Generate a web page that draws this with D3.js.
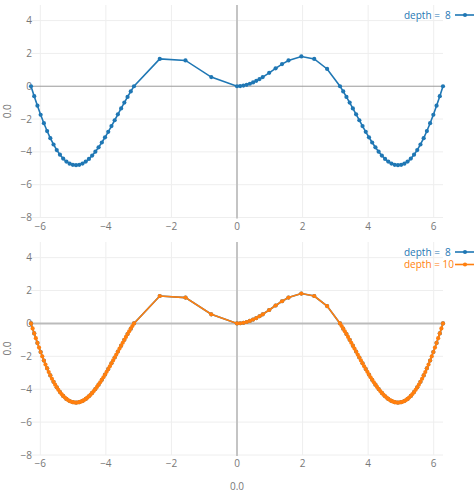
<!DOCTYPE html>
<html><head><meta charset="utf-8">
<script src="https://cdn.jsdelivr.net/npm/d3@7"></script>
<style>html,body{margin:0;padding:0;background:#fff;}svg{display:block;font-family:"Open Sans",sans-serif;}</style>
</head><body>
<svg id="c" width="474" height="493"></svg>
<script>
const xTicks = [-6, -4, -2, 0, 2, 4, 6];
const yTicks = [-8, -6, -4, -2, 0, 2, 4];
const xTitle = "0.0";
const yTitle = "0.0";
const seriesNames = ["depth =  8", "depth = 10"];
const seriesColors = ["#1f77b4", "#ff7f0e"];

const depth8 = [
[-6.283,0],[-6.185,-0.606],[-6.087,-1.188],[-5.989,-1.738],[-5.890,-2.254],[-5.792,-2.731],[-5.694,-3.164],[-5.596,-3.550],[-5.498,-3.888],[-5.400,-4.174],[-5.302,-4.408],[-5.203,-4.589],[-5.105,-4.717],[-5.007,-4.791],[-4.909,-4.814],[-4.811,-4.787],[-4.712,-4.712],[-4.614,-4.592],[-4.516,-4.429],[-4.418,-4.228],[-4.320,-3.991],[-4.222,-3.723],[-4.123,-3.429],[-4.025,-3.112],[-3.927,-2.777],[-3.829,-2.429],[-3.731,-2.073],[-3.633,-1.712],[-3.534,-1.353],[-3.436,-0.997],[-3.338,-0.651],[-3.240,-0.318],[-3.142,0],
[-2.356,1.666],[-1.571,1.571],[-0.785,0.555],[0,0],[0.098,0.010],[0.196,0.038],[0.295,0.086],[0.393,0.150],[0.491,0.231],[0.589,0.327],[0.687,0.436],[0.785,0.555],[0.982,0.816],[1.178,1.088],[1.374,1.348],[1.571,1.571],[1.963,1.814],[2.356,1.666],[2.749,1.052],
[3.142,0],[3.240,-0.318],[3.338,-0.651],[3.436,-0.997],[3.534,-1.353],[3.633,-1.712],[3.731,-2.073],[3.829,-2.429],[3.927,-2.777],[4.025,-3.112],[4.123,-3.429],[4.222,-3.723],[4.320,-3.991],[4.418,-4.228],[4.516,-4.429],[4.614,-4.592],[4.712,-4.712],[4.811,-4.787],[4.909,-4.814],[5.007,-4.791],[5.105,-4.717],[5.203,-4.589],[5.302,-4.408],[5.400,-4.174],[5.498,-3.888],[5.596,-3.550],[5.694,-3.164],[5.792,-2.731],[5.890,-2.254],[5.989,-1.738],[6.087,-1.188],[6.185,-0.606],[6.283,0]
];

const depth10 = [
[-6.283,0],[-6.234,-0.306],[-6.185,-0.606],[-6.136,-0.900],[-6.087,-1.188],[-6.038,-1.467],[-5.989,-1.738],[-5.940,-2.001],[-5.890,-2.254],[-5.842,-2.498],[-5.792,-2.731],[-5.743,-2.953],[-5.694,-3.164],[-5.645,-3.363],[-5.596,-3.550],[-5.547,-3.725],[-5.498,-3.888],[-5.449,-4.037],[-5.400,-4.174],[-5.351,-4.298],[-5.302,-4.408],[-5.252,-4.505],[-5.203,-4.589],[-5.154,-4.659],[-5.105,-4.717],[-5.056,-4.761],[-5.007,-4.791],[-4.958,-4.809],[-4.909,-4.814],[-4.860,-4.807],[-4.811,-4.787],[-4.762,-4.756],[-4.712,-4.712],[-4.663,-4.658],[-4.614,-4.592],[-4.565,-4.516],[-4.516,-4.429],[-4.467,-4.333],[-4.418,-4.228],[-4.369,-4.113],[-4.320,-3.991],[-4.271,-3.861],[-4.222,-3.723],[-4.173,-3.579],[-4.123,-3.429],[-4.074,-3.273],[-4.025,-3.112],[-3.976,-2.946],[-3.927,-2.777],[-3.878,-2.604],[-3.829,-2.429],[-3.780,-2.252],[-3.731,-2.073],[-3.682,-1.893],[-3.633,-1.712],[-3.583,-1.532],[-3.534,-1.353],[-3.485,-1.174],[-3.436,-0.997],[-3.387,-0.823],[-3.338,-0.651],[-3.289,-0.483],[-3.240,-0.318],[-3.191,-0.157],[-3.142,0],
[-2.356,1.666],[-1.571,1.571],[-0.785,0.555],[0,0],[0.098,0.010],[0.196,0.038],[0.295,0.086],[0.393,0.150],[0.491,0.231],[0.589,0.327],[0.687,0.436],[0.785,0.555],[0.982,0.816],[1.178,1.088],[1.374,1.348],[1.571,1.571],[1.963,1.814],[2.356,1.666],[2.749,1.052],
[3.142,0],[3.191,-0.157],[3.240,-0.318],[3.289,-0.483],[3.338,-0.651],[3.387,-0.823],[3.436,-0.997],[3.485,-1.174],[3.534,-1.353],[3.583,-1.532],[3.633,-1.712],[3.682,-1.893],[3.731,-2.073],[3.780,-2.252],[3.829,-2.429],[3.878,-2.604],[3.927,-2.777],[3.976,-2.946],[4.025,-3.112],[4.074,-3.273],[4.123,-3.429],[4.173,-3.579],[4.222,-3.723],[4.271,-3.861],[4.320,-3.991],[4.369,-4.113],[4.418,-4.228],[4.467,-4.333],[4.516,-4.429],[4.565,-4.516],[4.614,-4.592],[4.663,-4.658],[4.712,-4.712],[4.762,-4.756],[4.811,-4.787],[4.860,-4.807],[4.909,-4.814],[4.958,-4.809],[5.007,-4.791],[5.056,-4.761],[5.105,-4.717],[5.154,-4.659],[5.203,-4.589],[5.252,-4.505],[5.302,-4.408],[5.351,-4.298],[5.400,-4.174],[5.449,-4.037],[5.498,-3.888],[5.547,-3.725],[5.596,-3.550],[5.645,-3.363],[5.694,-3.164],[5.743,-2.953],[5.792,-2.731],[5.842,-2.498],[5.890,-2.254],[5.940,-2.001],[5.989,-1.738],[6.038,-1.467],[6.087,-1.188],[6.136,-0.900],[6.185,-0.606],[6.234,-0.306],[6.283,0]
];

const svg = d3.select("#c");
const xDomain = [-6.2832, 6.2832];
const yDomain = [-8, 4.95];
const L = 31, R = 443;
const panels = [
  {top: 5, bottom: 217.5, series: [0], zeroColor: "#999", zeroW: 1},
  {top: 242, bottom: 455, series: [0, 1], zeroColor: "#bbb", zeroW: 2}
];
const allSeries = [depth8, depth10];
const tickColor = "#777";

panels.forEach((p, pi) => {
  const x = d3.scaleLinear().domain(xDomain).range([L, R]);
  const y = d3.scaleLinear().domain(yDomain).range([p.bottom, p.top]);
  const g = svg.append("g");
  g.selectAll(".gx").data(xTicks.filter(t => t !== 0)).enter().append("line")
    .attr("x1", d => x(d)).attr("x2", d => x(d)).attr("y1", p.top).attr("y2", p.bottom)
    .attr("stroke", "#eee").attr("stroke-width", 1);
  g.selectAll(".gy").data(yTicks.filter(t => t !== 0)).enter().append("line")
    .attr("x1", L).attr("x2", R).attr("y1", d => y(d)).attr("y2", d => y(d))
    .attr("stroke", "#eee").attr("stroke-width", 1);
  g.append("line").attr("x1", L).attr("x2", R).attr("y1", y(0)).attr("y2", y(0))
    .attr("stroke", p.zeroColor).attr("stroke-width", p.zeroW);
  g.append("line").attr("x1", x(0)).attr("x2", x(0)).attr("y1", p.top).attr("y2", p.bottom + 1)
    .attr("stroke", "#c4c4c4").attr("stroke-width", 2);
  g.selectAll(".tx").data(xTicks).enter().append("text")
    .attr("x", d => x(d)).attr("y", p.bottom + 12).attr("text-anchor", "middle")
    .attr("font-size", 10).attr("fill", tickColor).text(d => d < 0 ? "\u2212" + Math.abs(d) : d);
  g.selectAll(".ty").data(yTicks).enter().append("text")
    .attr("x", L + 1).attr("y", d => y(d) + 3.5).attr("text-anchor", "end")
    .attr("font-size", 10).attr("fill", tickColor).text(d => d < 0 ? "\u2212" + Math.abs(d) : d);
  const cy = (p.top + p.bottom) / 2;
  g.append("text").attr("transform", `translate(11,${cy}) rotate(-90)`).attr("text-anchor", "middle")
    .attr("font-size", 10).attr("fill", tickColor).text(yTitle);
  const line = d3.line().x(d => x(d[0])).y(d => y(d[1]));
  p.series.forEach(si => {
    const data = allSeries[si];
    const sg = g.append("g");
    sg.append("path").attr("d", line(data)).attr("fill", "none")
      .attr("stroke", seriesColors[si]).attr("stroke-width", 1.6);
    sg.selectAll("circle").data(data).enter().append("circle")
      .attr("cx", d => x(d[0])).attr("cy", d => y(d[1])).attr("r", 2.1)
      .attr("fill", seriesColors[si]);
  });
  p.series.forEach((si, k) => {
    const ly = p.top + 10 + k * 12.5;
    g.append("text").attr("x", 404).attr("y", ly + 3.5).attr("font-size", 10)
      .style("white-space", "pre")
      .attr("fill", seriesColors[si]).text(seriesNames[si]);
    g.append("line").attr("x1", 455).attr("x2", 476).attr("y1", ly).attr("y2", ly)
      .attr("stroke", seriesColors[si]).attr("stroke-width", 1.6);
    g.append("circle").attr("cx", 465).attr("cy", ly).attr("r", 2.1).attr("fill", seriesColors[si]);
  });
});
svg.append("text").attr("x", 237).attr("y", 490).attr("text-anchor", "middle")
  .attr("font-size", 10).attr("fill", tickColor).text(xTitle);
</script>
</body></html>
